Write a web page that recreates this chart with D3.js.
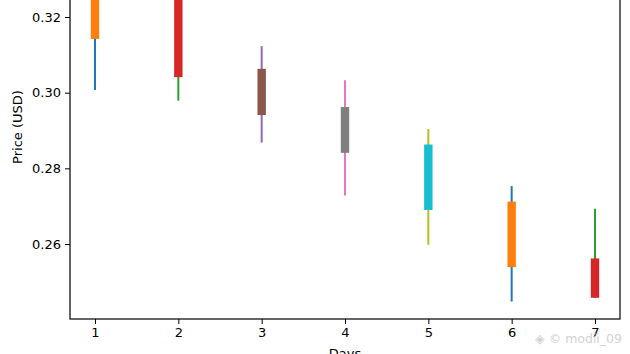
<!DOCTYPE html>
<html><head><meta charset="utf-8">
<script src="https://cdn.jsdelivr.net/npm/d3@7"></script>
<style>body{margin:0;background:#fff}svg{display:block}</style>
</head><body>
<svg id="c" width="630" height="354"></svg>
<script>
const days = [1,2,3,4,5,6,7];
const openVals  = [0.3300, 0.3260, 0.3063, 0.2962, 0.2863, 0.2712, 0.2562];
const closeVals = [0.3142, 0.3041, 0.2941, 0.2841, 0.2690, 0.2539, 0.2458];
const highVals  = [0.3360, 0.3300, 0.3123, 0.3033, 0.2904, 0.2753, 0.2693];
const lowVals   = [0.3007, 0.2979, 0.2868, 0.2728, 0.2598, 0.2448, 0.2458];
const yTicks = [0.26, 0.28, 0.30, 0.32];
const palette = ["#1f77b4","#ff7f0e","#2ca02c","#d62728","#9467bd","#8c564b","#e377c2","#7f7f7f","#bcbd22","#17becf"];

const svg = d3.select("#c");
const L = 70, R = 620, B = 319, T = -65;
const x = d3.scaleLinear().domain([0.7, 7.3]).range([L, R]);
const y = d3.scaleLinear().domain([0.24, 0.32]).range([319.7, 17]);

const g = svg.append("g");
svg.append("defs").append("clipPath").attr("id","pc").append("rect")
  .attr("x", L).attr("y", T).attr("width", R-L).attr("height", B-T);
const marks = g.append("g").attr("clip-path","url(#pc)");

days.forEach((d,i)=>{
  const wc = palette[(2*i)%10], bc = palette[(2*i+1)%10];
  marks.append("line").attr("x1", x(d)).attr("x2", x(d))
    .attr("y1", y(lowVals[i])).attr("y2", y(highVals[i]))
    .attr("stroke", wc).attr("stroke-width", 2);
  const top = Math.max(openVals[i], closeVals[i]), bot = Math.min(openVals[i], closeVals[i]);
  marks.append("rect").attr("x", x(d)-4.2).attr("width", 8.4)
    .attr("y", y(top)).attr("height", y(bot)-y(top)).attr("fill", bc);
});

const xAxis = d3.axisBottom(x).tickValues(days).tickFormat(d3.format("d")).tickSize(5).tickPadding(4);
const yAxis = d3.axisLeft(y).tickValues(yTicks).tickFormat(d3.format(".2f")).tickSize(5).tickPadding(4);
const font = "DejaVu Sans, sans-serif";
const gx = svg.append("g").attr("transform", `translate(0,${B})`).call(xAxis);
const gy = svg.append("g").attr("transform", `translate(${L},0)`).call(yAxis);
[gx, gy].forEach(a=>{
  a.selectAll("text").attr("font-family", font).attr("font-size", 13).attr("fill","#000");
  a.selectAll("line").attr("stroke","#000").attr("stroke-width",1);
  a.select(".domain").remove();
});
svg.append("rect").attr("x", L).attr("y", T).attr("width", R-L).attr("height", B-T)
  .attr("fill","none").attr("stroke","#000").attr("stroke-width",1.2);

svg.append("text").attr("x", (L+R)/2).attr("y", 358).attr("text-anchor","middle")
  .attr("font-family", font).attr("font-size", 13).text("Days");
svg.append("text").attr("transform", `translate(22,${(T+B)/2}) rotate(-90)`).attr("text-anchor","middle")
  .attr("font-family", font).attr("font-size", 13).text("Price (USD)");
svg.append("text").attr("x", 622).attr("y", 343).attr("text-anchor","end")
  .attr("font-family", font).attr("font-size", 12.5).attr("fill","#d2d2d2").text("◈ © modii_09");
</script>
</body></html>
